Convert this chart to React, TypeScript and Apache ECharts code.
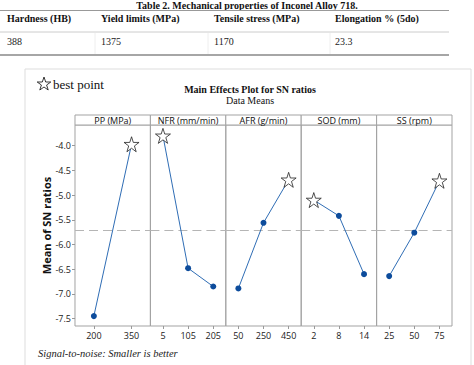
import React, { useEffect, useRef } from "react";
import * as echarts from "echarts";

const tableTitle = "Table 2. Mechanical properties of Inconel Alloy 718.";
const tableHeaders = ["Hardness (HB)", "Yield limits (MPa)", "Tensile stress (MPa)", "Elongation % (5do)"];
const tableValues = ["388", "1375", "1170", "23.3"];

const factors = ["PP (MPa)", "NFR (mm/min)", "AFR (g/min)", "SOD (mm)", "SS (rpm)"];
const levels = [
  ["200", "350"],
  ["5", "105", "205"],
  ["50", "250", "450"],
  ["2", "8", "14"],
  ["25", "50", "75"],
];
const snMeans = [
  [-7.45, -3.97],
  [-3.8, -6.48, -6.85],
  [-6.89, -5.56, -4.69],
  [-5.1, -5.42, -6.6],
  [-6.64, -5.76, -4.71],
];
const bestIndex = [1, 0, 2, 0, 2];
const overallMean = -5.71;
const yTicks = [-7.5, -7.0, -6.5, -6.0, -5.5, -5.0, -4.5, -4.0];

const STAR = "path://M50,2 L61,36 L97,36 L68,57 L79,92 L50,71 L21,92 L32,57 L3,36 L39,36 Z";

export default function App() {
  const ref = useRef<HTMLDivElement>(null);
  useEffect(() => {
    document.body.style.margin = "0";
    const chart = echarts.init(ref.current!, null, { renderer: "svg" });
    const panelLeft = 75;
    const panelW = 75.4;
    const top = 125;
    const bottom = 326;

    const grids = factors.map((_, i) => ({
      left: panelLeft + i * panelW,
      top,
      width: panelW,
      height: bottom - top,
      show: true,
      borderColor: "#a3a3a3",
      borderWidth: 1,
      backgroundColor: "transparent",
    }));

    const xAxes = factors.map((_, i) => ({
      type: "category",
      gridIndex: i,
      data: levels[i],
      boundaryGap: true,
      axisLine: { show: false },
      axisTick: { show: true, alignWithLabel: true, length: 3, lineStyle: { color: "#999" } },
      axisLabel: { fontSize: 9, color: "#222", margin: 5, fontFamily: "Open Sans" },
      splitLine: { show: false },
    }));

    const yAxes = factors.map((_, i) => ({
      type: "value",
      gridIndex: i,
      min: -7.65,
      max: -3.58,
      axisLine: { show: false },
      splitLine: { show: false },
      axisTick: i === 0 ? { show: true, length: 3, customValues: yTicks, lineStyle: { color: "#999" } } : { show: false },
      axisLabel:
        i === 0
          ? { show: true, fontSize: 9, color: "#222", margin: 4, fontFamily: "Open Sans", customValues: yTicks, formatter: (v: number) => v.toFixed(1) }
          : { show: false },
      name: i === 0 ? "Mean of SN ratios" : "",
      nameLocation: "middle",
      nameGap: 22,
      nameTextStyle: { fontSize: 11, fontWeight: "bold", color: "#111", fontFamily: "Open Sans" },
    }));

    const series = factors.map((_, i) => ({
      type: "line",
      xAxisIndex: i,
      yAxisIndex: i,
      data: snMeans[i].map((v, j) =>
        j === bestIndex[i]
          ? { value: v, symbol: STAR, symbolSize: 15, itemStyle: { color: "#fff", borderColor: "#222", borderWidth: 0.8 } }
          : { value: v, symbol: "circle", symbolSize: 6 }
      ),
      lineStyle: { color: "#2f6db5", width: 1 },
      itemStyle: { color: "#0d4c9c" },
      z: 5,
      markLine: {
        silent: true,
        symbol: "none",
        label: { show: false },
        lineStyle: { color: "#b5b5b5", type: [9, 5], width: 1.2 },
        data: [{ yAxis: overallMean }],
        z: 1,
      },
    }));

    const colX = [7, 101, 214, 335];
    const graphics: any[] = [
      { type: "text", x: 247, y: 5, style: { text: tableTitle, font: "bold 10px 'Liberation Serif'", fill: "#111", align: "center", verticalAlign: "middle" } },
      { type: "line", shape: { x1: 0, y1: 10.5, x2: 449, y2: 10.5 }, style: { stroke: "#999", lineWidth: 1 } },
      { type: "line", shape: { x1: 0, y1: 32, x2: 449, y2: 32 }, style: { stroke: "#ccc", lineWidth: 1 } },
      { type: "line", shape: { x1: 0, y1: 55, x2: 449, y2: 55 }, style: { stroke: "#888", lineWidth: 1.5 } },
      { type: "line", shape: { x1: 95, y1: 33, x2: 95, y2: 54 }, style: { stroke: "#eee", lineWidth: 1 } },
      { type: "line", shape: { x1: 208, y1: 33, x2: 208, y2: 54 }, style: { stroke: "#eee", lineWidth: 1 } },
      { type: "line", shape: { x1: 330, y1: 33, x2: 330, y2: 54 }, style: { stroke: "#eee", lineWidth: 1 } },
      { type: "rect", shape: { x: 25, y: 69, width: 446, height: 310 }, style: { fill: "none", stroke: "#ddd", lineWidth: 1 } },
      {
        type: "polygon",
        shape: { points: [[44, 77], [45.7, 82], [50.8, 82], [46.6, 85], [48.2, 90], [44, 87], [39.8, 90], [41.4, 85], [37.2, 82], [42.3, 82]] },
        style: { fill: "#fff", stroke: "#222", lineWidth: 0.9 },
      },
      { type: "text", x: 53, y: 84, style: { text: "best point", font: "13px 'Liberation Serif'", fill: "#111", verticalAlign: "middle" } },
      { type: "text", x: 250, y: 89, style: { text: "Main Effects Plot for SN ratios", font: "bold 10px 'Liberation Serif'", fill: "#111", align: "center", verticalAlign: "middle" } },
      { type: "text", x: 250, y: 100, style: { text: "Data Means", font: "10px 'Liberation Serif'", fill: "#111", align: "center", verticalAlign: "middle" } },
      { type: "text", x: 38, y: 353, style: { text: "Signal-to-noise: Smaller is better", font: "italic 10.5px 'Liberation Serif'", fill: "#222", verticalAlign: "middle" } },
    ];
    tableHeaders.forEach((h, i) => {
      graphics.push({ type: "text", x: colX[i], y: 18, style: { text: h, font: "bold 10px 'Liberation Serif'", fill: "#111", verticalAlign: "middle" } });
      graphics.push({ type: "text", x: colX[i], y: 41, style: { text: tableValues[i], font: "10px 'Liberation Serif'", fill: "#222", verticalAlign: "middle" } });
    });
    factors.forEach((f, i) => {
      const x0 = panelLeft + i * panelW;
      graphics.push({ type: "rect", shape: { x: x0, y: 115, width: panelW, height: 10 }, style: { fill: "#fff", stroke: "#a3a3a3", lineWidth: 1 } });
      graphics.push({ type: "text", x: x0 + panelW / 2, y: 120, style: { text: f, font: "9px 'Open Sans'", fill: "#111", align: "center", verticalAlign: "middle" } });
    });

    chart.setOption({
      animation: false,
      backgroundColor: "#fff",
      grid: grids,
      xAxis: xAxes,
      yAxis: yAxes,
      series,
      graphic: graphics,
    });
    return () => chart.dispose();
  }, []);
  return <div ref={ref} style={{ width: 474, height: 365, position: "absolute", left: 0, top: 0 }} />;
}
